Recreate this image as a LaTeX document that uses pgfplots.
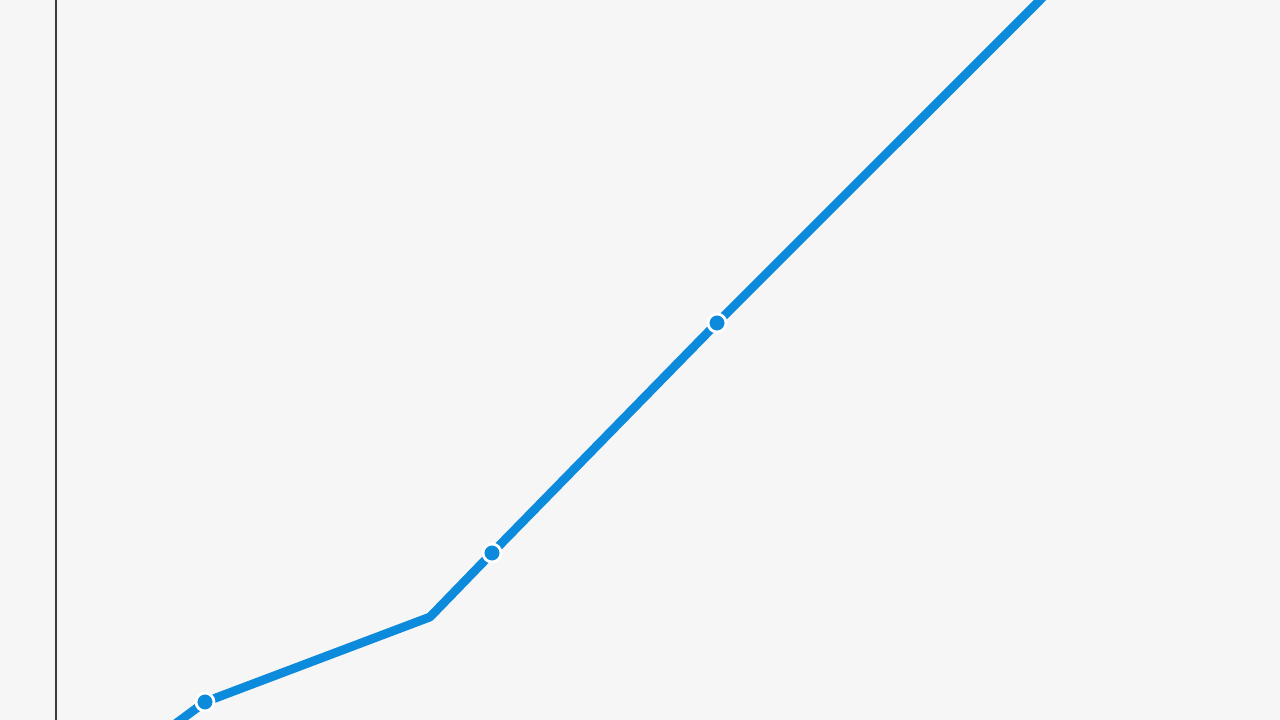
\documentclass[border=0pt]{standalone}
\usepackage{pgfplots}
\pgfplotsset{compat=1.18}
\definecolor{bg}{RGB}{246,246,247}
\definecolor{lineblue}{RGB}{12,138,219}
\definecolor{axisgray}{RGB}{60,60,60}
\begin{document}
\begin{tikzpicture}
\fill[bg] (0,0) rectangle (12.8cm,7.2cm);
\useasboundingbox (0,0) rectangle (12.8cm,7.2cm);
\begin{axis}[
  at={(0,0)}, anchor=origin,
  scale only axis, width=12.8cm, height=7.2cm,
  xmin=0, xmax=1280, ymin=0, ymax=720,
  hide axis, clip=true,
]
  % vertical axis line
  \addplot[axisgray, line width=0.018cm] coordinates {(56,-10) (56,730)};
  % series
  \addplot[lineblue, line width=0.088cm, line join=round] coordinates {
    (140,-30) (205,18) (430,103) (492,167) (717,397) (1040,720) (1100,781)
  };
  \addplot[only marks, mark=*, mark size=0.09cm,
    mark options={fill=lineblue, draw=white, line width=0.028cm}] coordinates {
    (205,18) (492,167) (717,397)
  };
\end{axis}
\end{tikzpicture}
\end{document}
